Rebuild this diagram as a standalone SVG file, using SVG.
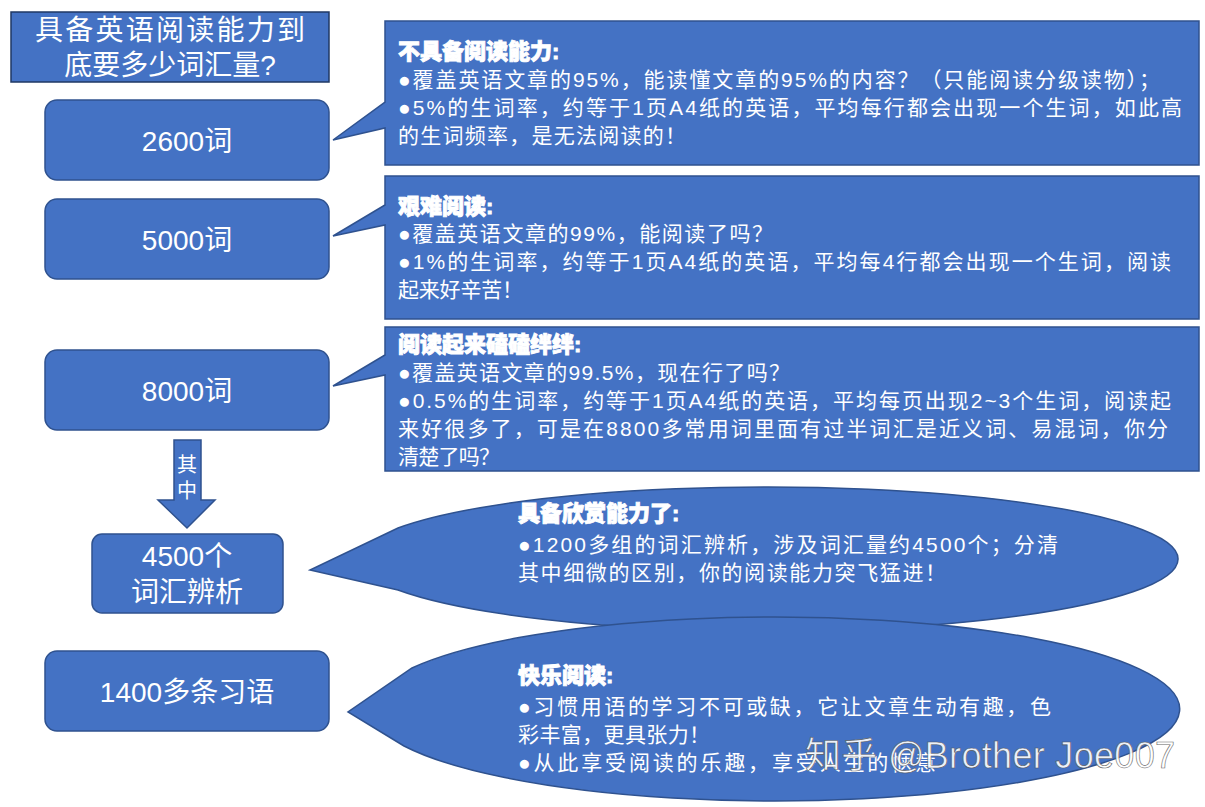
<svg xmlns="http://www.w3.org/2000/svg" width="1205" height="807" viewBox="0 0 1205 807">
<style>
.s{fill:#4472C4;stroke:#2F528F;stroke-width:1.5}
text{font-family:"Liberation Sans","Noto Sans CJK SC",sans-serif;fill:#fff}
.n{font-size:28px;text-anchor:middle}
.t{font-size:21px}
.h{font-size:22px;font-weight:900;stroke:#fff;stroke-width:0.9}
</style>
<rect width="1205" height="807" fill="#fff"/>
<g id="title"><rect class="s" x="11" y="12" width="318" height="70" style="stroke:#1f3864"/>
<text class="n" x="170" y="40" font-size="30" textLength="270">具备英语阅读能力到</text><text class="n" x="170" y="75" font-size="30">底要多少词汇量?</text></g>
<g id="n2600"><rect class="s" x="45" y="100" width="284" height="80" rx="12"/><text class="n" x="187" y="151">2600词</text></g>
<g id="n5000"><rect class="s" x="45" y="199" width="284" height="80" rx="12"/><text class="n" x="187" y="250">5000词</text></g>
<g id="n8000"><rect class="s" x="45" y="350" width="284" height="80" rx="12"/><text class="n" x="187" y="401">8000词</text></g>
<g id="n4500"><rect class="s" x="92" y="534" width="191" height="79" rx="10"/><text class="n" x="187" y="566">4500个</text><text class="n" x="187" y="602">词汇辨析</text></g>
<g id="n1400"><rect class="s" x="45" y="651" width="284" height="80" rx="12"/><text class="n" x="187" y="702">1400多条习语</text></g>
<g id="connectors">
<path class="s" d="M174,440 H201 V500 H215 L187,528 L158,500 H174 Z"/>
<text x="187" y="472" font-size="20" text-anchor="middle">其</text><text x="187" y="498" font-size="20" text-anchor="middle">中</text>
</g>
<g id="c1"><path class="s" d="M385,21 H1199 V165 H385 V128 L333,140 L385,102 Z"/>
<text class="h" x="398" y="59">不具备阅读能力:</text>
<text class="t" x="398" y="87" textLength="762">●覆盖英语文章的95%，能读懂文章的95%的内容？（只能阅读分级读物）；</text>
<text class="t" x="398" y="115" textLength="784">●5%的生词率，约等于1页A4纸的英语，平均每行都会出现一个生词，如此高</text>
<text class="t" x="398" y="143" textLength="288">的生词频率，是无法阅读的！</text></g>
<g id="c2"><path class="s" d="M385,176 H1199 V319 H385 V225 L333,236 L385,205 Z"/>
<text class="h" x="398" y="214">艰难阅读:</text>
<text class="t" x="398" y="241" textLength="375">●覆盖英语文章的99%，能阅读了吗？</text>
<text class="t" x="398" y="269" textLength="773">●1%的生词率，约等于1页A4纸的英语，平均每4行都会出现一个生词，阅读</text>
<text class="t" x="398" y="297" textLength="125">起来好辛苦！</text></g>
<g id="c3"><path class="s" d="M385,327 H1199 V471 H385 V375 L333,386 L385,355 Z"/>
<text class="h" x="398" y="352">阅读起来磕磕绊绊:</text>
<text class="t" x="398" y="380" textLength="392">●覆盖英语文章的99.5%，现在行了吗？</text>
<text class="t" x="398" y="408" textLength="773">●0.5%的生词率，约等于1页A4纸的英语，平均每页出现2~3个生词，阅读起</text>
<text class="t" x="398" y="436" textLength="770">来好很多了，可是在8800多常用词里面有过半词汇是近义词、易混词，你分</text>
<text class="t" x="398" y="464" textLength="102">清楚了吗？</text></g>
<g id="e1"><path class="s" d="M398,528 A410,72 0 1 1 398,590 L310,570 Z"/>
<text class="h" x="518" y="521" font-size="27">具备欣赏能力了:</text>
<text class="t" x="518" y="552" textLength="540">●1200多组的词汇辨析，涉及词汇量约4500个；分清</text>
<text class="t" x="518" y="580" textLength="428">其中细微的区别，你的阅读能力突飞猛进！</text></g>
<g id="e2"><path class="s" d="M412,668 A405,92 0 1 1 404,746 L348,712 Z"/>
<text class="h" x="518" y="683" font-size="27">快乐阅读:</text>
<text class="t" x="518" y="714" textLength="533">●习惯用语的学习不可或缺，它让文章生动有趣，色</text>
<text class="t" x="518" y="742" textLength="192">彩丰富，更具张力！</text>
<text class="t" x="518" y="770" textLength="418">●从此享受阅读的乐趣，享受人生的惬意</text></g>
<text x="805" y="768" font-size="36" textLength="370" fill="#fff" stroke="#555" stroke-width="0.6" opacity="0.9">知乎 @Brother Joe007</text>
</svg>
